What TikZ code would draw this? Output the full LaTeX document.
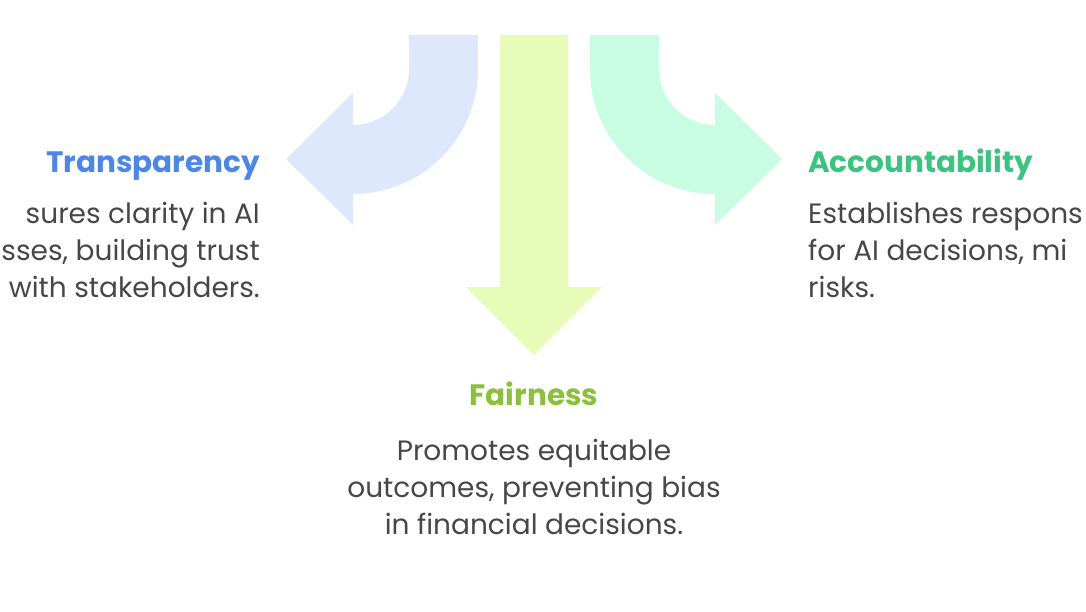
\documentclass[tikz,border=0pt]{standalone}
\usepackage{fontspec}
\setmainfont{Poppins}
\definecolor{arrowblue}{HTML}{DDE8FD}
\definecolor{arrowlime}{HTML}{E6FCB8}
\definecolor{arrowmint}{HTML}{C8FDE3}
\definecolor{titleblue}{HTML}{4C87E6}
\definecolor{titlelime}{HTML}{8CBF3C}
\definecolor{titlemint}{HTML}{3CC37F}
\definecolor{bodygray}{HTML}{474747}
\tikzset{
  arrowshape/.style={draw=none},
  titletext/.style={inner sep=0pt, font=\fontsize{29.5}{34}\selectfont\bfseries},
  bodytext/.style={inner sep=0pt, text=bodygray, font=\fontsize{28}{37}\selectfont},
}
\begin{document}
\begin{tikzpicture}[x=1pt,y=-1pt]
\useasboundingbox (0,0) rectangle (1086,611);
% left (blue) arrow
\fill[arrowshape, arrowblue] (409,35) -- (409,69) arc[start angle=0,end angle=90,radius=56]
  -- (353,93) -- (286,159) -- (353,225) -- (353,194)
  arc[start angle=90,end angle=0,radius=125] -- (478,35) -- cycle;
% middle (lime) arrow
\fill[arrowshape, arrowlime] (500,35) -- (568,35) -- (568,287) -- (602,287) -- (534,355)
  -- (466,287) -- (500,287) -- cycle;
% right (mint) arrow
\fill[arrowshape, arrowmint] (659,35) -- (659,69) arc[start angle=180,end angle=90,radius=56]
  -- (715,93) -- (782,159) -- (715,225) -- (715,194)
  arc[start angle=90,end angle=180,radius=125] -- (590,35) -- cycle;
% texts
\node[titletext, text=titleblue, anchor=base east] (ttrans) at (260,172) {Transparency};
\node[bodytext, anchor=base east, align=right] (btrans) at (260,297)
  {sures clarity in AI\\sses, building trust\\with stakeholders.};
\node[titletext, text=titlemint, anchor=base west] (tacc) at (808,172) {Accountability};
\node[bodytext, anchor=base west, align=left] (bacc) at (808,297)
  {Establishes respons\\for AI decisions, mi\\risks.};
\node[titletext, text=titlelime, anchor=base] (tfair) at (534,405) {Fairness};
\node[bodytext, anchor=base, align=center] (bfair) at (534,534)
  {Promotes equitable\\outcomes, preventing bias\\in financial decisions.};
\end{tikzpicture}
\end{document}
